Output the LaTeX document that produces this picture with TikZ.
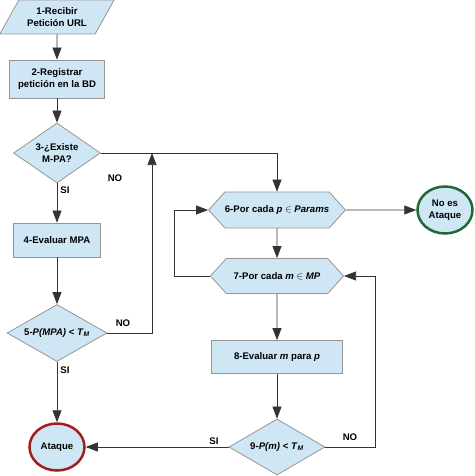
\documentclass[tikz,border=0pt]{standalone}
\usepackage{fontspec}
\setmainfont{Liberation Sans}
\usepackage{xcolor}
\usepackage{tikz}
\usetikzlibrary{positioning,shapes.geometric,shapes.symbols,arrows.meta}

\definecolor{boxfill}{RGB}{207,230,245}
\definecolor{boxline}{RGB}{150,150,150}
\definecolor{endred}{RGB}{160,30,35}
\definecolor{endgreen}{RGB}{30,105,55}

\tikzset{
	base/.style={fill=boxfill, draw=boxline, line width=0.8pt, inner sep=0pt, align=center,
		font=\fontsize{9.6}{12}\selectfont\bfseries},
	inout/.style={base, trapezium, trapezium left angle=52, trapezium right angle=128,
		trapezium stretches=true},
	proc/.style={base, rectangle},
	decision/.style={base, diamond, shape aspect=1.5},
	loopbox/.style={base, signal, signal to=west and east, signal pointer angle=96},
	stop/.style={base, ellipse, draw=#1, line width=2.5pt, minimum width=55pt, minimum height=47pt},
	flow/.style={draw=black!80, line width=0.7pt, -{Triangle[length=12pt,width=9pt]}},
	tag/.style={font=\fontsize{9.6}{12}\selectfont\bfseries, inner sep=1pt}
}

\begin{document}
\begin{tikzpicture}[x=1pt, y=-1pt]
	\useasboundingbox (0,0) rectangle (474,476);

	% Knoten links
	\node[inout, minimum width=115pt, minimum height=34pt] (recibir) at (57,17) {1-Recibir\\Petición URL};
	\node[proc, minimum width=95pt, minimum height=38pt] (registrar) at (57,79) {2-Registrar\\petición en la BD};
	\node[decision, minimum width=87pt, minimum height=60pt] (existe) at (57,153) {3-¿Existe\\M-PA?};
	\node[proc, minimum width=87pt, minimum height=34pt] (evaluarmpa) at (57,240) {4-Evaluar MPA};
	\node[decision, minimum width=100pt, minimum height=57pt] (umbralmpa) at (57,333)
		{5-\textit{P(MPA)} < \textit{T}\textsubscript{\textit{M}}};
	\node[stop=endred] (ataque) at (57,447) {Ataque};

	% Knoten rechts
	\node[loopbox, minimum width=133pt, minimum height=36pt] (params) at (277,210)
		{6-Por cada \textit{p} $\in$ \textit{Params}};
	\node[stop=endgreen] (noataque) at (445,210) {No es\\Ataque};
	\node[loopbox, minimum width=133pt, minimum height=35pt] (metodos) at (277,276)
		{7-Por cada \textit{m} $\in$ \textit{MP}};
	\node[proc, minimum width=131pt, minimum height=33pt] (evaluarm) at (277,357)
		{8-Evaluar \textit{m} para \textit{p}};
	\node[decision, minimum width=96pt, minimum height=56pt] (umbralm) at (277,447)
		{9-\textit{P(m)} < \textit{T}\textsubscript{\textit{M}}};

	\coordinate (cruce) at (152,153);

	% Verbindungen
	\draw[flow] (recibir) -- (registrar);
	\draw[flow] (registrar) -- (existe);
	\draw[flow] (existe) -- (evaluarmpa);
	\draw[flow] (existe.east) -| (params.north);
	\draw[flow] (evaluarmpa) -- (umbralmpa);
	\draw[flow] (umbralmpa.east) -| (cruce);
	\draw[flow] (umbralmpa) -- (ataque);
	\draw[flow] (params) -- (noataque);
	\draw[flow] (params) -- (metodos);
	\draw[flow] (metodos.west) -- ++(-36,0) |- (params.west);
	\draw[flow] (metodos) -- (evaluarm);
	\draw[flow] (evaluarm) -- (umbralm);
	\draw[flow] (umbralm.east) -- ++(50,0) |- (metodos.east);
	\draw[flow] (umbralm.west) -- (ataque.east);

	% Beschriftungen
	\node[tag] (si3) at (65,190) {SI};
	\node[tag] (no3) at (115,178) {NO};
	\node[tag] (no5) at (123,323) {NO};
	\node[tag] (si5) at (65,370) {SI};
	\node[tag] (si9) at (214,441) {SI};
	\node[tag] (no9) at (350,437) {NO};
\end{tikzpicture}
\end{document}
